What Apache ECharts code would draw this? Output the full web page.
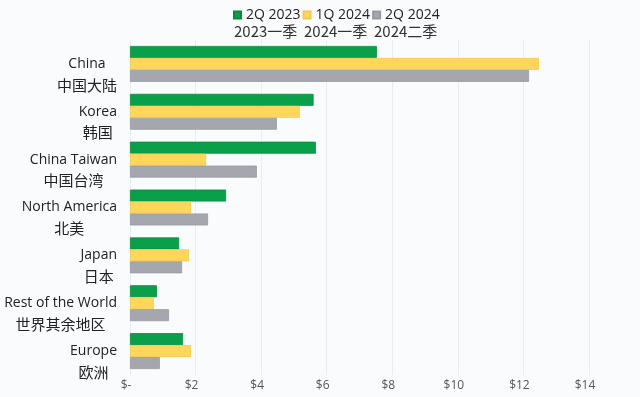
<!DOCTYPE html>
<html>
<head>
<meta charset="utf-8">
<script src="https://cdn.jsdelivr.net/npm/echarts@6/dist/echarts.min.js"></script>
<style>
html,body{margin:0;padding:0;background:#f9fbfd;}
#c{width:640px;height:397px;}
</style>
</head>
<body>
<div id="c"></div>
<script>
const categoriesEn = ['China', 'Korea', 'China Taiwan', 'North America', 'Japan', 'Rest of the World', 'Europe'];
const categoriesCn = ['中国大陆', '韩国', '中国台湾', '北美', '日本', '世界其余地区', '欧洲'];
const seriesNames = ['2Q 2023', '1Q 2024', '2Q 2024'];
const seriesNamesCn = ['2023一季', '2024一季', '2024二季'];
const q2_2023 = [7.53, 5.60, 5.67, 2.93, 1.50, 0.82, 1.62];
const q1_2024 = [12.47, 5.18, 2.32, 1.86, 1.80, 0.73, 1.86];
const q2_2024 = [12.17, 4.48, 3.87, 2.38, 1.59, 1.19, 0.91];
const xTicks = {min: 0, max: 14, interval: 2};

const colors = ['#0aa04a', '#ffd65c', '#a6a7ae'];
const borders = ['#078c3f', '#f2c84e', '#969aa2'];
const values = [q2_2023, q1_2024, q2_2024];

const chart = echarts.init(document.getElementById('c'), null, {renderer: 'canvas'});
const labelKeys = categoriesEn.map((e, i) => e + '\n' + categoriesCn[i]);

chart.setOption({
  backgroundColor: '#f9fbfd',
  animation: false,
  title: {
    text: seriesNamesCn.join('  '),
    left: 229,
    top: 19,
    textStyle: {fontFamily: 'Noto Sans CJK SC', fontSize: 15, fontWeight: 'normal', color: '#333'}
  },
  legend: {
    data: seriesNames,
    top: 3,
    left: 228,
    itemWidth: 7,
    itemHeight: 7,
    itemGap: 2,
    icon: 'rect',
    textStyle: {fontFamily: 'Open Sans', fontSize: 14, color: '#222'}
  },
  grid: {left: 130, right: 51, top: 40, bottom: 22},
  xAxis: {
    type: 'value',
    min: xTicks.min,
    max: xTicks.max,
    interval: xTicks.interval,
    axisLine: {show: false},
    axisTick: {show: false},
    splitLine: {lineStyle: {color: '#e9ecf0', width: 1}},
    axisLabel: {
      fontFamily: 'Open Sans',
      fontSize: 12,
      color: '#555',
      margin: 5,
      padding: [0, 8, 0, 0],
      formatter: v => v === 0 ? '$-' : '$' + v
    }
  },
  yAxis: {
    type: 'category',
    inverse: true,
    data: labelKeys,
    axisLine: {show: false},
    axisTick: {show: false},
    axisLabel: {
      margin: 13,
      padding: [21, 0, 0, 0],
      formatter: (v, i) => '{en|' + categoriesEn[i] + '}\n{cn|' + categoriesCn[i] + '}',
      rich: {
        en: {fontFamily: 'Open Sans', fontSize: 14, color: '#222', align: 'center', lineHeight: 21},
        cn: {fontFamily: 'Noto Sans CJK SC', fontSize: 15, color: '#222', align: 'center', lineHeight: 21}
      }
    }
  },
  series: seriesNames.map((n, k) => ({
    name: n,
    type: 'bar',
    data: values[k],
    barGap: '0%',
    barCategoryGap: '25%',
    itemStyle: {color: colors[k], borderColor: borders[k], borderWidth: 0.8}
  }))
});
</script>
</body>
</html>
